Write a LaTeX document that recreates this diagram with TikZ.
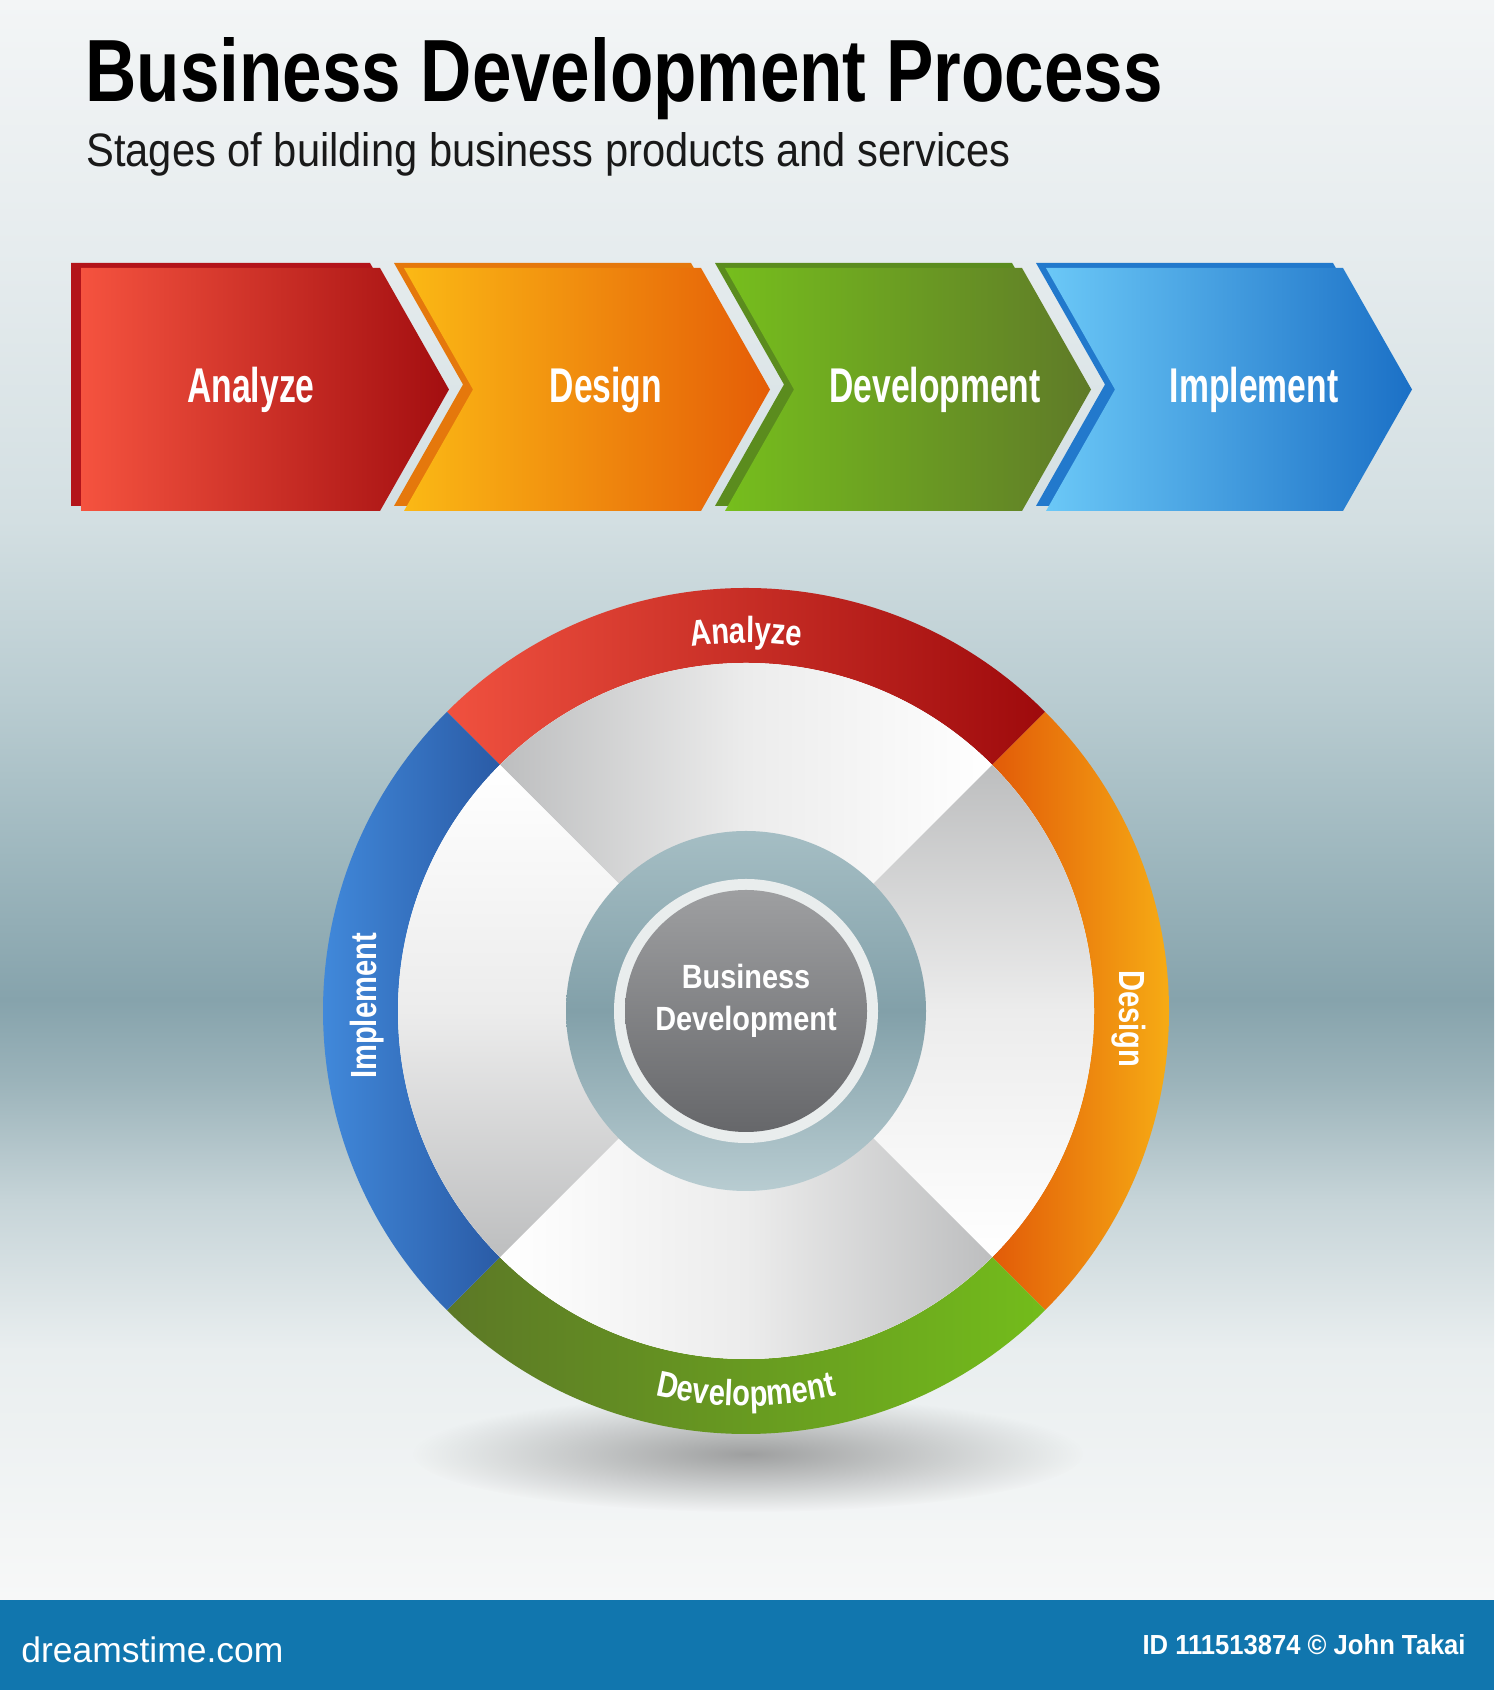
\documentclass[tikz,border=0pt]{standalone}
\usepackage{fontspec}
\setmainfont{Liberation Sans}
\newfontfamily\arrowfam[FakeStretch=0.69]{Liberation Sans}
\newfontfamily\ringfam[FakeStretch=0.80]{Liberation Sans}
\newfontfamily\ringfamwide[FakeStretch=0.80,LetterSpace=5]{Liberation Sans}
\newfontfamily\centerfam[FakeStretch=0.86]{Liberation Sans}
\usetikzlibrary{calc,decorations.text,fadings,shadings}

\definecolor{bgA}{HTML}{F3F5F6}
\definecolor{bgB}{HTML}{E6ECEE}
\definecolor{bgC}{HTML}{D3DFE2}
\definecolor{bgD}{HTML}{B9CCD1}
\definecolor{bgE}{HTML}{9FB8BF}
\definecolor{bgF}{HTML}{86A3AC}
\definecolor{bgG}{HTML}{9BB3BA}
\definecolor{bgH}{HTML}{C6D4D8}
\definecolor{bgI}{HTML}{E9EEEF}
\definecolor{bgJ}{HTML}{F7F8F8}
\pgfdeclareverticalshading{bgshade}{100bp}{color(0bp)=(bgJ); color(25bp)=(bgJ); color(32.81bp)=(bgI); color(37.5bp)=(bgH); color(41.25bp)=(bgG); color(43.75bp)=(bgF); color(48.44bp)=(bgE); color(53.13bp)=(bgD); color(58.75bp)=(bgC); color(67.19bp)=(bgB); color(75bp)=(bgA); color(100bp)=(bgA)}
\tikzfading[name=shadowfade, inner color=transparent!35, outer color=transparent!100]

\definecolor{redL}{HTML}{F5533F}\definecolor{redR}{HTML}{A30E10}\definecolor{redS}{HTML}{B3141A}
\definecolor{orL}{HTML}{FBB915}\definecolor{orR}{HTML}{E55D07}\definecolor{orS}{HTML}{E5780C}
\definecolor{grL}{HTML}{76BE1D}\definecolor{grR}{HTML}{5F7A28}\definecolor{grS}{HTML}{5B8C1E}
\definecolor{blL}{HTML}{6BC8F7}\definecolor{blR}{HTML}{1B70C6}\definecolor{blS}{HTML}{2279CC}
\definecolor{rRedL}{HTML}{F0513F}\definecolor{rRedR}{HTML}{9E0A0C}
\definecolor{rOrL}{HTML}{E25B08}\definecolor{rOrR}{HTML}{FBBE17}
\definecolor{rGrL}{HTML}{5C7826}\definecolor{rGrR}{HTML}{73BC1B}
\definecolor{rBlL}{HTML}{4693E6}\definecolor{rBlR}{HTML}{2A5BA6}
\definecolor{secG}{HTML}{BDBEBF}\definecolor{secM}{HTML}{ECECEC}
\definecolor{hubT}{HTML}{A5BEC4}\definecolor{hubM}{HTML}{82A0A9}\definecolor{hubB}{HTML}{B8CCD1}
\definecolor{hubW}{HTML}{E9EDED}
\definecolor{coreT}{HTML}{9E9FA1}\definecolor{coreB}{HTML}{66676A}
\definecolor{footer}{HTML}{1176AE}

\newcommand\arrowlbl{\arrowfam\bfseries\fontsize{24.4pt}{28pt}\selectfont}
\newcommand\ringlbl{\ringfam\bfseries\fontsize{18.2pt}{20pt}\selectfont\color{white}}
\newcommand\ringlblwide{\ringfamwide\bfseries\fontsize{18.2pt}{20pt}\selectfont\color{white}}
\newcommand\centerlbl{\centerfam\bfseries\fontsize{16.8pt}{20pt}\selectfont}

\tikzset{
  arrowtext/.style={anchor=base, inner sep=0pt, text=white, font=\arrowlbl},
  centertext/.style={anchor=base, inner sep=0pt, text=white, font=\centerlbl},
  ringtext/.style={anchor=base, inner sep=0pt, text=white, font=\ringlbl},
}

\begin{document}
\begin{tikzpicture}[x=0.5pt,y=0.5pt]
\useasboundingbox (0,0) rectangle (1494,1690);
% background
\shade[shading=bgshade] (0,90) rectangle (1494,1690);
\fill[footer] (0,0) rectangle (1494,90);

% title
\node[anchor=base west, inner sep=0pt] (title) at (85,1588) {\resizebox{538.5pt}{32pt}{\bfseries Business Development Process}};
\node[anchor=base west, inner sep=0pt, text=black!90] (subtitle) at (86,1523) {\resizebox{462pt}{17pt}{Stages of building business products and services}};

% chevrons: back (side) faces and front faces
\fill[redS] (71,1427) -- (370,1427) -- (439,1305.5) -- (370,1184) -- (71,1184) -- cycle;
\shade[left color=redL, right color=redR] (81,1422) -- (380,1422) -- (449,1300.5) -- (380,1179) -- (81,1179) -- cycle;
\fill[orS] (394,1427) -- (691,1427) -- (760,1305.5) -- (691,1184) -- (394,1184) -- (463,1305.5) -- cycle;
\shade[left color=orL, right color=orR] (404,1422) -- (701,1422) -- (770,1300.5) -- (701,1179) -- (404,1179) -- (473,1300.5) -- cycle;
\fill[grS] (715,1427) -- (1012,1427) -- (1081,1305.5) -- (1012,1184) -- (715,1184) -- (784,1305.5) -- cycle;
\shade[left color=grL, right color=grR] (725,1422) -- (1022,1422) -- (1091,1300.5) -- (1022,1179) -- (725,1179) -- (794,1300.5) -- cycle;
\fill[blS] (1036,1427) -- (1333,1427) -- (1402,1305.5) -- (1333,1184) -- (1036,1184) -- (1105,1305.5) -- cycle;
\shade[left color=blL, right color=blR] (1046,1422) -- (1343,1422) -- (1412,1300.5) -- (1343,1179) -- (1046,1179) -- (1115,1300.5) -- cycle;

\node[arrowtext] (a1) at (251,1287) {Analyze};
\node[arrowtext] (a2) at (606,1287) {Design};
\node[arrowtext] (a3) at (935,1287) {Development};
\node[arrowtext] (a4) at (1254,1287) {Implement};

% shadow under the wheel
\fill[black!55, path fading=shadowfade] (748,236) ellipse[x radius=335, y radius=58];

% wheel
\coordinate (C) at (746,679);
\shade[left color=rRedL, right color=rRedR] ($(C)+(45:423)$) arc[start angle=45, end angle=135, radius=423] -- ($(C)+(135:348)$) arc[start angle=135, end angle=45, radius=348] -- cycle;
\shade[left color=rOrL, right color=rOrR] ($(C)+(-45:423)$) arc[start angle=-45, end angle=45, radius=423] -- ($(C)+(45:348)$) arc[start angle=45, end angle=-45, radius=348] -- cycle;
\shade[left color=rGrL, right color=rGrR] ($(C)+(-135:423)$) arc[start angle=-135, end angle=-45, radius=423] -- ($(C)+(-45:348)$) arc[start angle=-45, end angle=-135, radius=348] -- cycle;
\shade[left color=rBlL, right color=rBlR] ($(C)+(135:423)$) arc[start angle=135, end angle=225, radius=423] -- ($(C)+(225:348)$) arc[start angle=225, end angle=135, radius=348] -- cycle;

\fill[white] (C) circle[radius=348];
\shade[left color=secG, right color=white, middle color=secM] (C) -- ($(C)+(135:348)$) arc[start angle=135, end angle=45, radius=348] -- cycle;
\shade[top color=secG, bottom color=white, middle color=secM] (C) -- ($(C)+(45:348)$) arc[start angle=45, end angle=-45, radius=348] -- cycle;
\shade[right color=secG, left color=white, middle color=secM] (C) -- ($(C)+(-45:348)$) arc[start angle=-45, end angle=-135, radius=348] -- cycle;
\shade[bottom color=secG, top color=white, middle color=secM] (C) -- ($(C)+(225:348)$) arc[start angle=225, end angle=135, radius=348] -- cycle;

\shade[top color=hubT, bottom color=hubB, middle color=hubM] (C) circle[radius=180];
\fill[hubW] (C) circle[radius=132];
\shade[top color=coreT, bottom color=coreB] (C) circle[radius=121];

\node[centertext] (c1) at (746,701) {Business};
\node[centertext] (c2) at (746,659) {Development};

% ring labels
\path[decorate, decoration={text along path, text={|\ringlbl|Analyze}, text align=center}] ($(C)+(120:368)$) arc[start angle=120, end angle=60, radius=368];
\node[ringtext, rotate=-90] (r2) at (1119,671) {Design};
\node[ringtext, rotate=90] (r4) at (376,684) {Implement};
\path[decorate, decoration={text along path, text={|\ringlblwide|Development}, text align=center}] ($(C)+(235:395)$) arc[start angle=235, end angle=305, radius=395];

% footer texts
\node[anchor=base west, inner sep=0pt, text=white] (logo) at (21,27) {\resizebox{131pt}{!}{dreamstime.com}};
\node[anchor=base east, inner sep=0pt, text=white] (credit) at (1466,35) {\resizebox{161.5pt}{10pt}{\bfseries ID 111513874 © John Takai}};
\end{tikzpicture}
\end{document}
